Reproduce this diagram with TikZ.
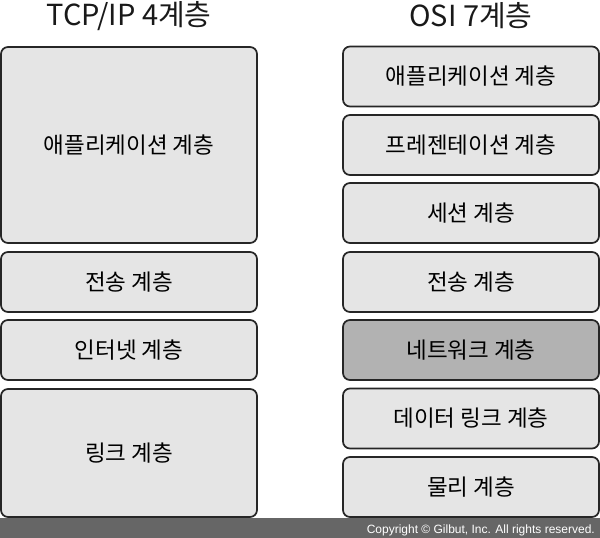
\documentclass[tikz,border=0pt]{standalone}
\usepackage{fontspec}
\setmainfont{Noto Sans CJK KR}
\newfontfamily\latinfont{Liberation Sans}
\tikzset{
  layerbox/.style={draw=black!85,line width=1.7pt,rounded corners=7pt,fill=black!10,
    minimum width=256pt,inner sep=0pt,font=\fontsize{22.5}{24}\selectfont},
  darkbox/.style={layerbox,fill=black!30},
  headline/.style={font=\fontsize{29}{31}\selectfont,text=black!90}
}
\begin{document}
\begin{tikzpicture}
          [x=1pt,y=-1pt]
          \useasboundingbox (0,0) rectangle (600,538);

          \node[headline] (tcpip) at (129,16) {TCP/IP 4계층};
          \node[headline] (osi) at (471,16) {OSI 7계층};

          \node[layerbox,minimum height=196pt] (tapp) at (129,145) {애플리케이션 계층};
          \node[layerbox,minimum height=60pt] (ttrans) at (129,282) {전송 계층};
          \node[layerbox,minimum height=60pt] (tnet) at (129,350) {인터넷 계층};
          \node[layerbox,minimum height=128pt] (tlink) at (129,453) {링크 계층};

          \foreach \name/\ypos/\label in {oapp/76.5/애플리케이션 계층,opres/145/프레젠테이션 계층,
            oses/213/세션 계층,otrans/282/전송 계층,odata/418.5/데이터 링크 계층,ophys/487/물리 계층}
            \node[layerbox,minimum height=60pt] (\name) at (471,\ypos) {\label};
          \node[darkbox,minimum height=60pt] (onet) at (471,350) {네트워크 계층};

          \fill[black!60] (0,518) rectangle (600,538);
          \node[anchor=east,inner sep=0pt,text=white,font=\latinfont\fontsize{12}{14}\selectfont] (copy) at (595,530) {Copyright © Gilbut, Inc. All rights reserved.};

        \end{tikzpicture}
\end{document}
